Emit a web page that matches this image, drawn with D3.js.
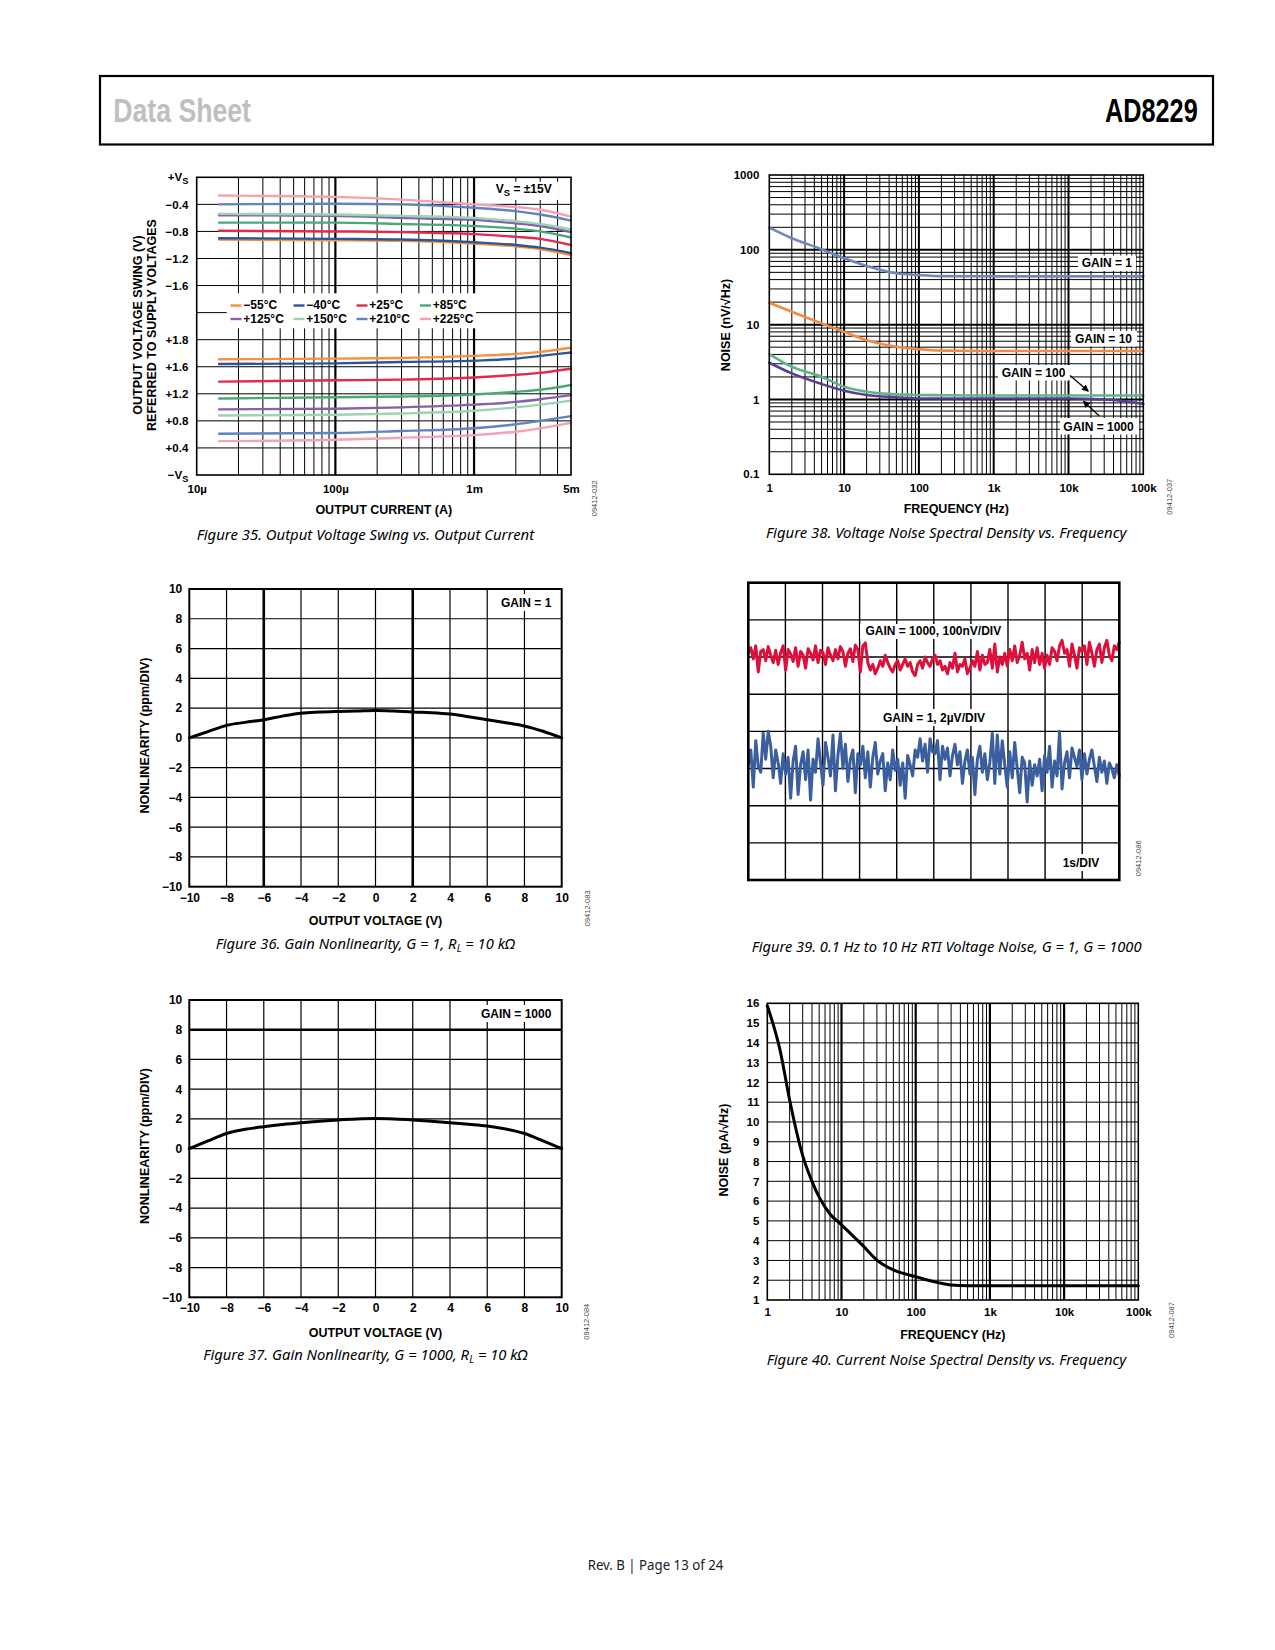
<!DOCTYPE html>
<html>
<head>
<meta charset="utf-8">
<script src="https://cdn.jsdelivr.net/npm/d3@7"></script>
<style>
  body { margin: 0; background: #fff; }
  svg text { font-family: 'Liberation Sans', Arial, Helvetica, sans-serif; }
  .ttl { font-size: 12.5px; font-weight: bold; }
  .lbl { font-size: 12px; font-weight: bold; }
  .cap { font-family: 'Noto Sans', 'Open Sans', sans-serif; font-style: italic; font-size: 15px; white-space: pre; }
  .code { font-size: 7.5px; fill: #444; }
</style>
</head>
<body>
<script>
(function(d3) {
    'use strict';

    // ---- Figure 35: output voltage swing vs output current ----
    var swingCurrent = [14.5e-6, 100e-6, 300e-6, 1e-3, 2e-3, 3e-3, 5e-3];
    var swingTemps = ['\u221255\u00b0C', '\u221240\u00b0C', '+25\u00b0C', '+85\u00b0C',
                      '+125\u00b0C', '+150\u00b0C', '+210\u00b0C', '+225\u00b0C'];
    var swingColors = ['#f7913e', '#2d5698', '#e22a4e', '#4aa978',
                       '#8263aa', '#9dd3b3', '#6282c1', '#f4a1b3'];
    // referred to +Vs (V)
    var swingHigh = [
        [-0.92, -0.93, -0.94, -0.98, -1.02, -1.06, -1.15],
        [-0.90, -0.91, -0.92, -0.96, -1.00, -1.04, -1.12],
        [-0.79, -0.80, -0.81, -0.84, -0.88, -0.91, -1.00],
        [-0.67, -0.67, -0.69, -0.72, -0.76, -0.80, -0.89],
        [-0.56, -0.57, -0.60, -0.63, -0.68, -0.72, -0.81],
        [-0.54, -0.55, -0.57, -0.60, -0.65, -0.69, -0.77],
        [-0.40, -0.39, -0.40, -0.45, -0.50, -0.55, -0.64],
        [-0.27, -0.29, -0.33, -0.40, -0.44, -0.48, -0.58]
    ];
    // referred to -Vs (V)
    var swingLow = [
        [1.71, 1.72, 1.73, 1.76, 1.79, 1.82, 1.88],
        [1.64, 1.65, 1.67, 1.69, 1.72, 1.76, 1.81],
        [1.38, 1.40, 1.41, 1.44, 1.48, 1.51, 1.57],
        [1.13, 1.15, 1.16, 1.19, 1.23, 1.26, 1.33],
        [0.97, 0.98, 1.00, 1.04, 1.08, 1.12, 1.18],
        [0.88, 0.89, 0.91, 0.95, 1.00, 1.04, 1.10],
        [0.61, 0.62, 0.65, 0.69, 0.75, 0.80, 0.87],
        [0.50, 0.52, 0.55, 0.59, 0.64, 0.69, 0.77]
    ];
    var swingXTicks = [1e-5, 1e-4, 1e-3, 5e-3];
    var swingXLabels = ['10\u00b5', '100\u00b5', '1m', '5m'];
    var swingHiTicks = [0, -0.4, -0.8, -1.2, -1.6];
    var swingHiLabels = ['+VS', '\u22120.4', '\u22120.8', '\u22121.2', '\u22121.6'];
    var swingLoTicks = [0, 0.4, 0.8, 1.2, 1.6, 2.0];
    var swingLoLabels = ['\u2212VS', '+0.4', '+0.8', '+1.2', '+1.6', '+1.8'];

    // ---- Figure 38: voltage noise spectral density ----
    var vnFreq = [1, 2, 5, 10, 20, 50, 100, 200, 1000, 10000, 30000, 50000, 100000];
    var vnGains = ['GAIN = 1', 'GAIN = 10', 'GAIN = 100', 'GAIN = 1000'];
    var vnColors = ['#6e88be', '#f58a40', '#5eb58a', '#5a3d9a'];
    var vnNoise = [
        [198, 143, 102, 77, 61, 48.5, 46, 44.5, 44.2, 44.2, 44.2, 44.2, 44.2],
        [19.6, 14.9, 10.4, 8.0, 6.2, 5.07, 4.7, 4.5, 4.45, 4.45, 4.45, 4.45, 4.45],
        [4.05, 2.74, 2.01, 1.48, 1.27, 1.17, 1.15, 1.14, 1.13, 1.13, 1.13, 1.13, 1.13],
        [3.1, 2.23, 1.61, 1.31, 1.15, 1.07, 1.03, 1.03, 1.03, 1.03, 1.0, 0.96, 0.87]
    ];
    var freqTicks = [1, 10, 100, 1000, 10000, 100000];
    var freqLabels = ['1', '10', '100', '1k', '10k', '100k'];
    var vnTicks = [0.1, 1, 10, 100, 1000];
    var vnLabels = ['0.1', '1', '10', '100', '1000'];

    // ---- Figures 36 / 37: gain nonlinearity ----
    var nlVolts = [-10, -9, -8, -7, -6, -5, -4, -3, -2, -1, 0, 1, 2, 3, 4, 5, 6, 7, 8, 9, 10];
    var nlGain1 = [0, 0.42, 0.84, 1.04, 1.22, 1.46, 1.66, 1.73, 1.77, 1.8, 1.84, 1.8, 1.73, 1.69, 1.6, 1.42, 1.22, 1.02, 0.8, 0.44, 0];
    var nlGain1000 = [0, 0.52, 1.02, 1.3, 1.48, 1.63, 1.75, 1.85, 1.93, 1.99, 2.02, 1.99, 1.93, 1.85, 1.75, 1.64, 1.52, 1.32, 1.02, 0.52, 0];
    var nlTicks = [-10, -8, -6, -4, -2, 0, 2, 4, 6, 8, 10];
    var nlLabels = ['\u221210', '\u22128', '\u22126', '\u22124', '\u22122', '0', '2', '4', '6', '8', '10'];

    // ---- Figure 39: 0.1 Hz to 10 Hz noise, 10 s span ----
    var rtiGain1000 = [ // nV, 100nV/DIV
        10, 25, -5, 30, -40, 15, 20, -10, 28, 5, -15, 18, -20, 12, 30,
        -35, 20, 8, -12, 25, -25, 15, 5, -30, 22, 10, -8, 30, -15, 18,
        12, -20, 25, 5, -10, 20, -5, 28, 15, -25, 10, 22, -12, 32, 20,
        -40, 30, 38, -15, -35, -20, -45, -30, -10, -25, 5, -15, -30, -40, -20,
        -10, -35, -20, -5, -25, -15, -40, -50, -20, -10, -30, 0, -15, -25, -5,
        5, -20, -10, -35, -25, -45, -15, -30, 10, -40, -20, -25, -5, -45, -30,
        -10, -25, 15, -35, 5, -20, -15, 20, -30, 35, -40, 0, -20, 10, -25,
        20, -10, 30, -15, 5, 40, -5, 10, -35, 20, -15, 25, -20, 10, -30,
        5, -20, 25, 15, -10, 30, 45, 10, 20, -25, 35, 5, -30, 25, 15,
        30, -20, 40, 10, -25, 20, 35, -15, 25, 45, 5, -10, 30, 20, 40
    ];
    var rtiGain1 = [ // uV, 2uV/DIV
        0.2, 1.0, -1.0, 1.5, 0.1, -0.2, 1.9, 0.5, 2.0, 1.2, -0.5, 1.0, 0.3, -0.8, 0.8,
        -0.3, 0.6, -1.6, 0.4, 1.2, -1.4, 0.2, 0.9, -0.6, 1.0, -1.7, 0.5, -0.2, 1.6, 0.3,
        -0.9, 1.4, 0.6, -0.4, 1.8, -1.2, 0.7, 1.9, 0.0, 1.3, -0.7, 0.5, 1.0, -1.3, 0.8,
        0.2, 1.2, -0.5, 0.9, -1.0, 0.6, 1.4, -0.3, 0.4, 0.8, -1.2, 0.3, -0.6, 1.0, -0.1,
        0.5, -0.9, 0.3, -1.6, 0.7, 0.2, -0.4, 1.0, 0.6, 1.6, 0.4, 1.3, -0.2, 1.6, 0.9,
        0.8, 1.5, -0.6, 1.2, 0.5, 1.1, -0.4, 0.7, 1.3, 0.2, 0.9, -0.8, 0.4, 1.0, -0.3,
        0.6, -1.4, 0.5, 1.2, -0.2, 0.8, -0.6, 0.3, 1.9, -0.8, 1.8, -0.3, 1.5, 0.2, -1.0,
        0.9, -0.5, 1.4, 0.0, -1.3, 0.6, 0.3, -1.8, 0.4, -0.9, 0.2, -0.4, 0.5, -1.2, 0.7,
        -0.2, 1.2, -1.0, 0.4, -0.4, 2.0, -1.1, 0.3, 0.9, -0.5, 1.1, 0.6, 0.1, 1.0, -0.6,
        0.8, -0.3, 0.5, 1.0, 0.1, -0.7, 0.6, -0.2, 0.4, -0.8, 0.3, 0.0, -0.5, 0.2, -0.4
    ];

    // ---- Figure 40: current noise spectral density ----
    var inFreq = [1, 1.5, 2, 3, 4, 5, 7, 10, 20, 30, 50, 100, 200, 300, 500, 1000, 10000, 100000];
    var inNoise = [15.88, 13.56, 11.11, 8.3, 7.0, 6.2, 5.35, 4.8, 3.7, 3.02, 2.52, 2.18, 1.88, 1.76, 1.72, 1.72, 1.72, 1.72];
    var inTicks = [1, 2, 3, 4, 5, 6, 7, 8, 9, 10, 11, 12, 13, 14, 15, 16];

    // ---------------------------------------------------------------
    var svg = d3.select('body').append('svg')
        .attr('width', 1275)
        .attr('height', 1650);
    svg.append('rect').attr('width', 1275).attr('height', 1650).attr('fill', '#fff');

    var defs = svg.append('defs');
    defs.append('marker')
        .attr('id', 'arrow')
        .attr('viewBox', '0 0 10 10')
        .attr('refX', 9).attr('refY', 5)
        .attr('markerWidth', 7).attr('markerHeight', 7)
        .attr('markerUnits', 'userSpaceOnUse')
        .attr('orient', 'auto')
        .append('path').attr('d', 'M0,0L10,5L0,10z').attr('fill', '#000');

    // Page header
    svg.append('rect')
        .attr('x', 100).attr('y', 76).attr('width', 1113).attr('height', 68.5)
        .attr('fill', 'none').attr('stroke', '#000').attr('stroke-width', 2.2);
    svg.append('text')
        .attr('x', 113.3).attr('y', 122)
        .attr('font-size', 33).attr('font-weight', 'bold').attr('fill', '#bfbfbf')
        .attr('textLength', 137.7).attr('lengthAdjust', 'spacingAndGlyphs')
        .text('Data Sheet');
    svg.append('text')
        .attr('x', 1105).attr('y', 122.3)
        .attr('font-size', 33).attr('font-weight', 'bold').attr('fill', '#000')
        .attr('textLength', 92.7).attr('lengthAdjust', 'spacingAndGlyphs')
        .text('AD8229');

    // Footer
    svg.append('text')
        .attr('x', 655.5).attr('y', 1570).attr('text-anchor', 'middle')
        .style('font-family', "'Noto Sans', 'Open Sans', sans-serif")
        .attr('font-size', 14).attr('fill', '#222')
        .attr('textLength', 135.6).attr('lengthAdjust', 'spacingAndGlyphs')
        .text('Rev. B | Page 13 of 24');

    // ---- helpers ----
    function logSteps(lo, hi) {
        var out = [];
        for (var dec = lo; dec < hi * 0.999; dec *= 10) {
            for (var m = 1; m < 10; m++) {
                var v = dec * m;
                if (v > lo * 1.0001 && v < hi * 0.9999) out.push(v);
            }
        }
        return out;
    }
    function isDecade(v) {
        var l = Math.log10(v);
        return Math.abs(l - Math.round(l)) < 1e-6;
    }
    function vLines(g, vals, x, y0, y1, w) {
        g.selectAll(null).data(vals).enter().append('line')
            .attr('x1', function(d) { return x(d); })
            .attr('x2', function(d) { return x(d); })
            .attr('y1', y0).attr('y2', y1)
            .attr('stroke', '#000')
            .attr('stroke-width', typeof w === 'function' ? w : function() { return w; });
    }
    function hLines(g, vals, y, x0, x1, w) {
        g.selectAll(null).data(vals).enter().append('line')
            .attr('y1', function(d) { return y(d); })
            .attr('y2', function(d) { return y(d); })
            .attr('x1', x0).attr('x2', x1)
            .attr('stroke', '#000')
            .attr('stroke-width', typeof w === 'function' ? w : function() { return w; });
    }
    function frame(g, f, w) {
        g.append('rect')
            .attr('x', f.left).attr('y', f.top)
            .attr('width', f.right - f.left).attr('height', f.bottom - f.top)
            .attr('fill', 'none').attr('stroke', '#000').attr('stroke-width', w);
    }
    function whiteBox(g, x0, y0, x1, y1) {
        g.append('rect').attr('x', x0).attr('y', y0)
            .attr('width', x1 - x0).attr('height', y1 - y0).attr('fill', '#fff');
    }
    function label(g, x, y, txt, anchor) {
        return g.append('text').attr('class', 'lbl')
            .attr('x', x).attr('y', y)
            .attr('text-anchor', anchor || 'start')
            .text(txt);
    }
    function drawLine(g, xs, ys, x, y, color, w, curve) {
        var pts = xs.map(function(v, i) { return [v, ys[i]]; });
        g.append('path').datum(pts)
            .attr('d', d3.line()
                .x(function(d) { return x(d[0]); })
                .y(function(d) { return y(d[1]); })
                .curve(curve || d3.curveMonotoneX))
            .attr('fill', 'none')
            .attr('stroke', color)
            .attr('stroke-width', w)
            .attr('stroke-linejoin', 'round')
            .attr('stroke-linecap', 'round');
    }
    function subS(sel, fs) {
        sel.selectAll('text').each(function() {
            var t = d3.select(this);
            var s = t.text();
            if (/VS$/.test(s)) {
                t.text(s.slice(0, -1));
                t.append('tspan').attr('font-size', fs * 0.8).attr('dy', 3).text('S');
            }
        });
    }
    function leftAxis(g, scale, vals, labels, x, pad, fs) {
        var a = g.append('g')
            .attr('transform', 'translate(' + x + ',0)')
            .call(d3.axisLeft(scale).tickValues(vals)
                .tickFormat(function(d, i) { return labels[i]; })
                .tickSize(0).tickPadding(pad));
        a.select('.domain').remove();
        a.attr('font-size', fs).attr('font-weight', 'bold').attr('font-family', null);
        a.selectAll('text').attr('fill', '#000');
        return a;
    }
    function bottomAxis(g, scale, vals, labels, y, pad, fs) {
        var a = g.append('g')
            .attr('transform', 'translate(0,' + y + ')')
            .call(d3.axisBottom(scale).tickValues(vals)
                .tickFormat(function(d, i) { return labels[i]; })
                .tickSize(0).tickPadding(pad));
        a.select('.domain').remove();
        a.attr('font-size', fs).attr('font-weight', 'bold').attr('font-family', null);
        a.selectAll('text').attr('fill', '#000');
        return a;
    }
    function xTitle(g, x, y, txt) {
        g.append('text').attr('class', 'ttl')
            .attr('x', x).attr('y', y).attr('text-anchor', 'middle').text(txt);
    }
    function yTitle(g, x, y, txt) {
        g.append('text').attr('class', 'ttl')
            .attr('transform', 'translate(' + x + ',' + y + ') rotate(-90)')
            .attr('text-anchor', 'middle').text(txt);
    }
    function code(g, x, y, txt) {
        g.append('text').attr('class', 'code')
            .attr('transform', 'translate(' + x + ',' + y + ') rotate(-90)')
            .attr('text-anchor', 'middle').attr('dy', '0.35em').text(txt);
    }
    // caption pieces are laid out one after another, then squeezed to the printed width
    function caption(g, cx, y, w, parts) {
        var cg = g.append('g');
        var pos = 0;
        parts.forEach(function(p) {
            var t = cg.append('text').attr('class', 'cap')
                .attr('x', pos).attr('y', p.sub ? 3 : 0)
                .text(p.t);
            if (p.sub) t.style('font-size', '10px');
            pos += t.node().getComputedTextLength();
        });
        var k = w / pos;
        cg.attr('transform', 'translate(' + (cx - w / 2) + ',' + y + ') scale(' + k + ',1)');
    }

    // ================= Figure 35 =================
    (function() {
        var g = svg.append('g');
        var f = {left: 196.7, right: 571, top: 177.3, bottom: 475};
        var div = (f.bottom - f.top) / 11;
        var x = d3.scaleLog().domain([1e-5, 5e-3]).range([f.left, f.right]);
        var yHi = d3.scaleLinear().domain([0, -2.0]).range([f.top, f.top + 5 * div]);
        var yLo = d3.scaleLinear().domain([0, 2.4]).range([f.bottom, f.bottom - 6 * div]);

        var xs = logSteps(1e-5, 5e-3);
        vLines(g, xs, x, f.top, f.bottom, function(d) { return isDecade(d) ? 2.2 : 1; });
        hLines(g, [-0.4, -0.8, -1.2, -1.6, -2.0], yHi, f.left, f.right, 1);
        hLines(g, [0.4, 0.8, 1.2, 1.6, 2.0], yLo, f.left, f.right, 1);

        whiteBox(g, 226.7, 293.3, 476, 328.3);
        whiteBox(g, 490, 181.7, 558.3, 200);

        swingHigh.forEach(function(vals, i) {
            drawLine(g, swingCurrent, vals, x, yHi, swingColors[i], 2.4);
        });
        swingLow.forEach(function(vals, i) {
            drawLine(g, swingCurrent, vals, x, yLo, swingColors[i], 2.4);
        });
        frame(g, f, 1.6);

        // legend
        var colX = [230.5, 293.5, 356.5, 420];
        var rowY = [305.5, 319];
        var leg = g.selectAll('.legend')
            .data(swingTemps)
            .enter().append('g')
            .attr('class', 'legend')
            .attr('transform', function(d, i) {
                return 'translate(' + colX[i % 4] + ',' + rowY[Math.floor(i / 4)] + ')';
            });
        leg.append('line')
            .attr('x1', 0).attr('x2', 11).attr('y1', 0).attr('y2', 0)
            .attr('stroke', function(d, i) { return swingColors[i]; })
            .attr('stroke-width', 2.4);
        leg.append('text').attr('class', 'lbl')
            .attr('x', 12.8).attr('y', 3.6)
            .text(function(d) { return d; });

        var vs = label(g, 495.7, 193.3, 'V');
        vs.append('tspan').attr('font-size', 9.5).attr('dy', 3).text('S');
        vs.append('tspan').attr('dy', -3).text(' = \u00b115V');

        var ah = leftAxis(g, yHi, swingHiTicks, swingHiLabels, f.left, 8.4, 11.5);
        subS(ah, 11.5);
        var al = leftAxis(g, yLo, swingLoTicks, swingLoLabels, f.left, 8.4, 11.5);
        subS(al, 11.5);
        bottomAxis(g, x, swingXTicks, swingXLabels, f.bottom, 10, 11.5);

        xTitle(g, 383.8, 514, 'OUTPUT CURRENT (A)');
        yTitle(g, 141.7, 325, 'OUTPUT VOLTAGE SWING (V)');
        yTitle(g, 156, 325, 'REFERRED TO SUPPLY VOLTAGES');
        code(g, 594.7, 498.3, '09412-032');
        caption(g, 365.5, 540, 337.7, [{t: 'Figure 35. Output Voltage Swing vs. Output Current'}]);
    })();

    // ================= Figure 38 =================
    (function() {
        var g = svg.append('g');
        var f = {left: 769.3, right: 1143.3, top: 175, bottom: 474.3};
        var x = d3.scaleLog().domain([1, 1e5]).range([f.left, f.right]);
        var y = d3.scaleLog().domain([0.1, 1000]).range([f.bottom, f.top]);

        vLines(g, logSteps(1, 1e5), x, f.top, f.bottom, function(d) { return isDecade(d) ? 2 : 1; });
        hLines(g, logSteps(0.1, 1000), y, f.left, f.right, function(d) { return isDecade(d) ? 2 : 1; });

        whiteBox(g, 1078, 255.5, 1136, 271);
        whiteBox(g, 1071, 331, 1137, 346.5);
        whiteBox(g, 998, 365, 1070, 380.5);
        whiteBox(g, 1060, 418, 1139, 434.5);

        vnNoise.forEach(function(vals, i) {
            drawLine(g, vnFreq, vals, x, y, vnColors[i], 2.6);
        });
        frame(g, f, 1.6);

        label(g, 1081.7, 267.3, vnGains[0]);
        label(g, 1075, 342.7, vnGains[1]);
        label(g, 1001.7, 376.7, vnGains[2]);
        label(g, 1063.3, 430.7, vnGains[3]);

        var arrows = [[10500, 2.09, 18400, 1.29], [25800, 0.60, 15800, 0.95]];
        g.selectAll('.arr').data(arrows).enter().append('line')
            .attr('class', 'arr')
            .attr('x1', function(d) { return x(d[0]); })
            .attr('y1', function(d) { return y(d[1]); })
            .attr('x2', function(d) { return x(d[2]); })
            .attr('y2', function(d) { return y(d[3]); })
            .attr('stroke', '#000').attr('stroke-width', 1.3)
            .attr('marker-end', 'url(#arrow)');

        leftAxis(g, y, vnTicks, vnLabels, f.left, 10, 11.5);
        bottomAxis(g, x, freqTicks, freqLabels, f.bottom, 9.2, 11.5);
        xTitle(g, 956.3, 512.7, 'FREQUENCY (Hz)');
        yTitle(g, 730, 325, 'NOISE (nV/\u221aHz)');
        code(g, 1169.3, 496.7, '09412-037');
        caption(g, 946.3, 538.3, 360.7, [{t: 'Figure 38. Voltage Noise Spectral Density vs. Frequency'}]);
    })();

    // ================= Figures 36 / 37 =================
    function nonlinChart(f, vals, gainTxt, box, lblPos, thickV, thickH, tickY, titles, codeTxt, capParts, capPos) {
        var g = svg.append('g');
        var x = d3.scaleLinear().domain([-10, 10]).range([f.left, f.right]);
        var y = d3.scaleLinear().domain([-10, 10]).range([f.bottom, f.top]);
        var inner = [-8, -6, -4, -2, 0, 2, 4, 6, 8];
        vLines(g, inner, x, f.top, f.bottom, function(d) { return thickV.indexOf(d) >= 0 ? 2.6 : 1.2; });
        hLines(g, inner, y, f.left, f.right, function(d) { return thickH.indexOf(d) >= 0 ? 2.6 : 1.2; });
        whiteBox(g, box[0], box[1], box[2], box[3]);
        drawLine(g, nlVolts, vals, x, y, '#000', 3, d3.curveMonotoneX);
        frame(g, f, 2);
        label(g, lblPos[0], lblPos[1], gainTxt);
        leftAxis(g, y, nlTicks, nlLabels, f.left, 7, 12);
        bottomAxis(g, x, nlTicks, nlLabels, f.bottom, tickY, 12);
        xTitle(g, (f.left + f.right) / 2, titles[0], 'OUTPUT VOLTAGE (V)');
        yTitle(g, 149, titles[1], 'NONLINEARITY (ppm/DIV)');
        code(g, titles[2], titles[3], codeTxt);
        caption(g, capPos[0], capPos[1], capPos[2], capParts);
    }

    nonlinChart({left: 189.3, right: 561.7, top: 589, bottom: 886.7}, nlGain1, 'GAIN = 1',
        [497, 594, 555, 611], [501, 606.7], [-6, 2], [], 6.5,
        [925, 735.5, 587.7, 908.3], '09412-083',
        [{t: 'Figure 36. Gain Nonlinearity, G = 1, R'}, {t: 'L', sub: true}, {t: ' = 10 k\u03a9'}],
        [365.3, 949, 299.3]);

    nonlinChart({left: 189.3, right: 561.7, top: 1000, bottom: 1297.3}, nlGain1000, 'GAIN = 1000',
        [478, 1005, 556, 1022], [481, 1018.3], [], [8], 6.5,
        [1336.7, 1146, 586, 1321.7], '09412-084',
        [{t: 'Figure 37. Gain Nonlinearity, G = 1000, R'}, {t: 'L', sub: true}, {t: ' = 10 k\u03a9'}],
        [365.5, 1360, 324.3]);

    // ================= Figure 39 =================
    (function() {
        var g = svg.append('g');
        var f = {left: 748.3, right: 1119.3, top: 582.7, bottom: 880};
        var x = d3.scaleLinear().domain([0, 10]).range([f.left, f.right]);
        var y = d3.scaleLinear().domain([-4, 4]).range([f.bottom, f.top]);

        vLines(g, d3.range(1, 10), x, f.top, f.bottom, 1.4);
        hLines(g, d3.range(-3, 4), y, f.left, f.right, 1.4);

        whiteBox(g, 860, 624, 1007, 639);
        whiteBox(g, 878, 709, 990, 726);
        whiteBox(g, 1059, 854, 1102, 871);

        var tRed = rtiGain1000.map(function(d, i) { return i * 10 / (rtiGain1000.length - 1); });
        var tBlue = rtiGain1.map(function(d, i) { return i * 10 / (rtiGain1.length - 1); });
        drawLine(g, tRed, rtiGain1000.map(function(v) { return 2 + v / 100; }), x, y, '#df0f3b', 3, d3.curveLinear);
        drawLine(g, tBlue, rtiGain1.map(function(v) { return -1 + v / 2; }), x, y, '#3b5f9e', 3, d3.curveLinear);

        frame(g, f, 2.6);
        label(g, 933.3, 635, 'GAIN = 1000, 100nV/DIV', 'middle');
        label(g, 934, 721.7, 'GAIN = 1, 2\u00b5V/DIV', 'middle');
        label(g, 1062.7, 866.7, '1s/DIV');
        code(g, 1138.3, 858.3, '09412-086');
        caption(g, 946.7, 951.7, 390, [{t: 'Figure 39. 0.1 Hz to 10 Hz RTI Voltage Noise, G = 1, G = 1000'}]);
    })();

    // ================= Figure 40 =================
    (function() {
        var g = svg.append('g');
        var f = {left: 767.3, right: 1138.3, top: 1003.3, bottom: 1300};
        var x = d3.scaleLog().domain([1, 1e5]).range([f.left, f.right]);
        var y = d3.scaleLinear().domain([1, 16]).range([f.bottom, f.top]);

        vLines(g, logSteps(1, 1e5), x, f.top, f.bottom, function(d) { return isDecade(d) ? 2.2 : 1; });
        hLines(g, d3.range(2, 16), y, f.left, f.right, 1);
        drawLine(g, inFreq, inNoise, x, y, '#000', 3, d3.curveMonotoneX);
        frame(g, f, 1.6);

        leftAxis(g, y, inTicks, inTicks.map(String), f.left, 8, 11.5);
        bottomAxis(g, x, freqTicks, freqLabels, f.bottom, 7.5, 11.5);
        xTitle(g, 952.8, 1339, 'FREQUENCY (Hz)');
        yTitle(g, 728, 1150, 'NOISE (pA/\u221aHz)');
        code(g, 1171, 1320, '09412-087');
        caption(g, 946.7, 1365, 360, [{t: 'Figure 40. Current Noise Spectral Density vs. Frequency'}]);
    })();

})(window.d3);
</script>
</body>
</html>
